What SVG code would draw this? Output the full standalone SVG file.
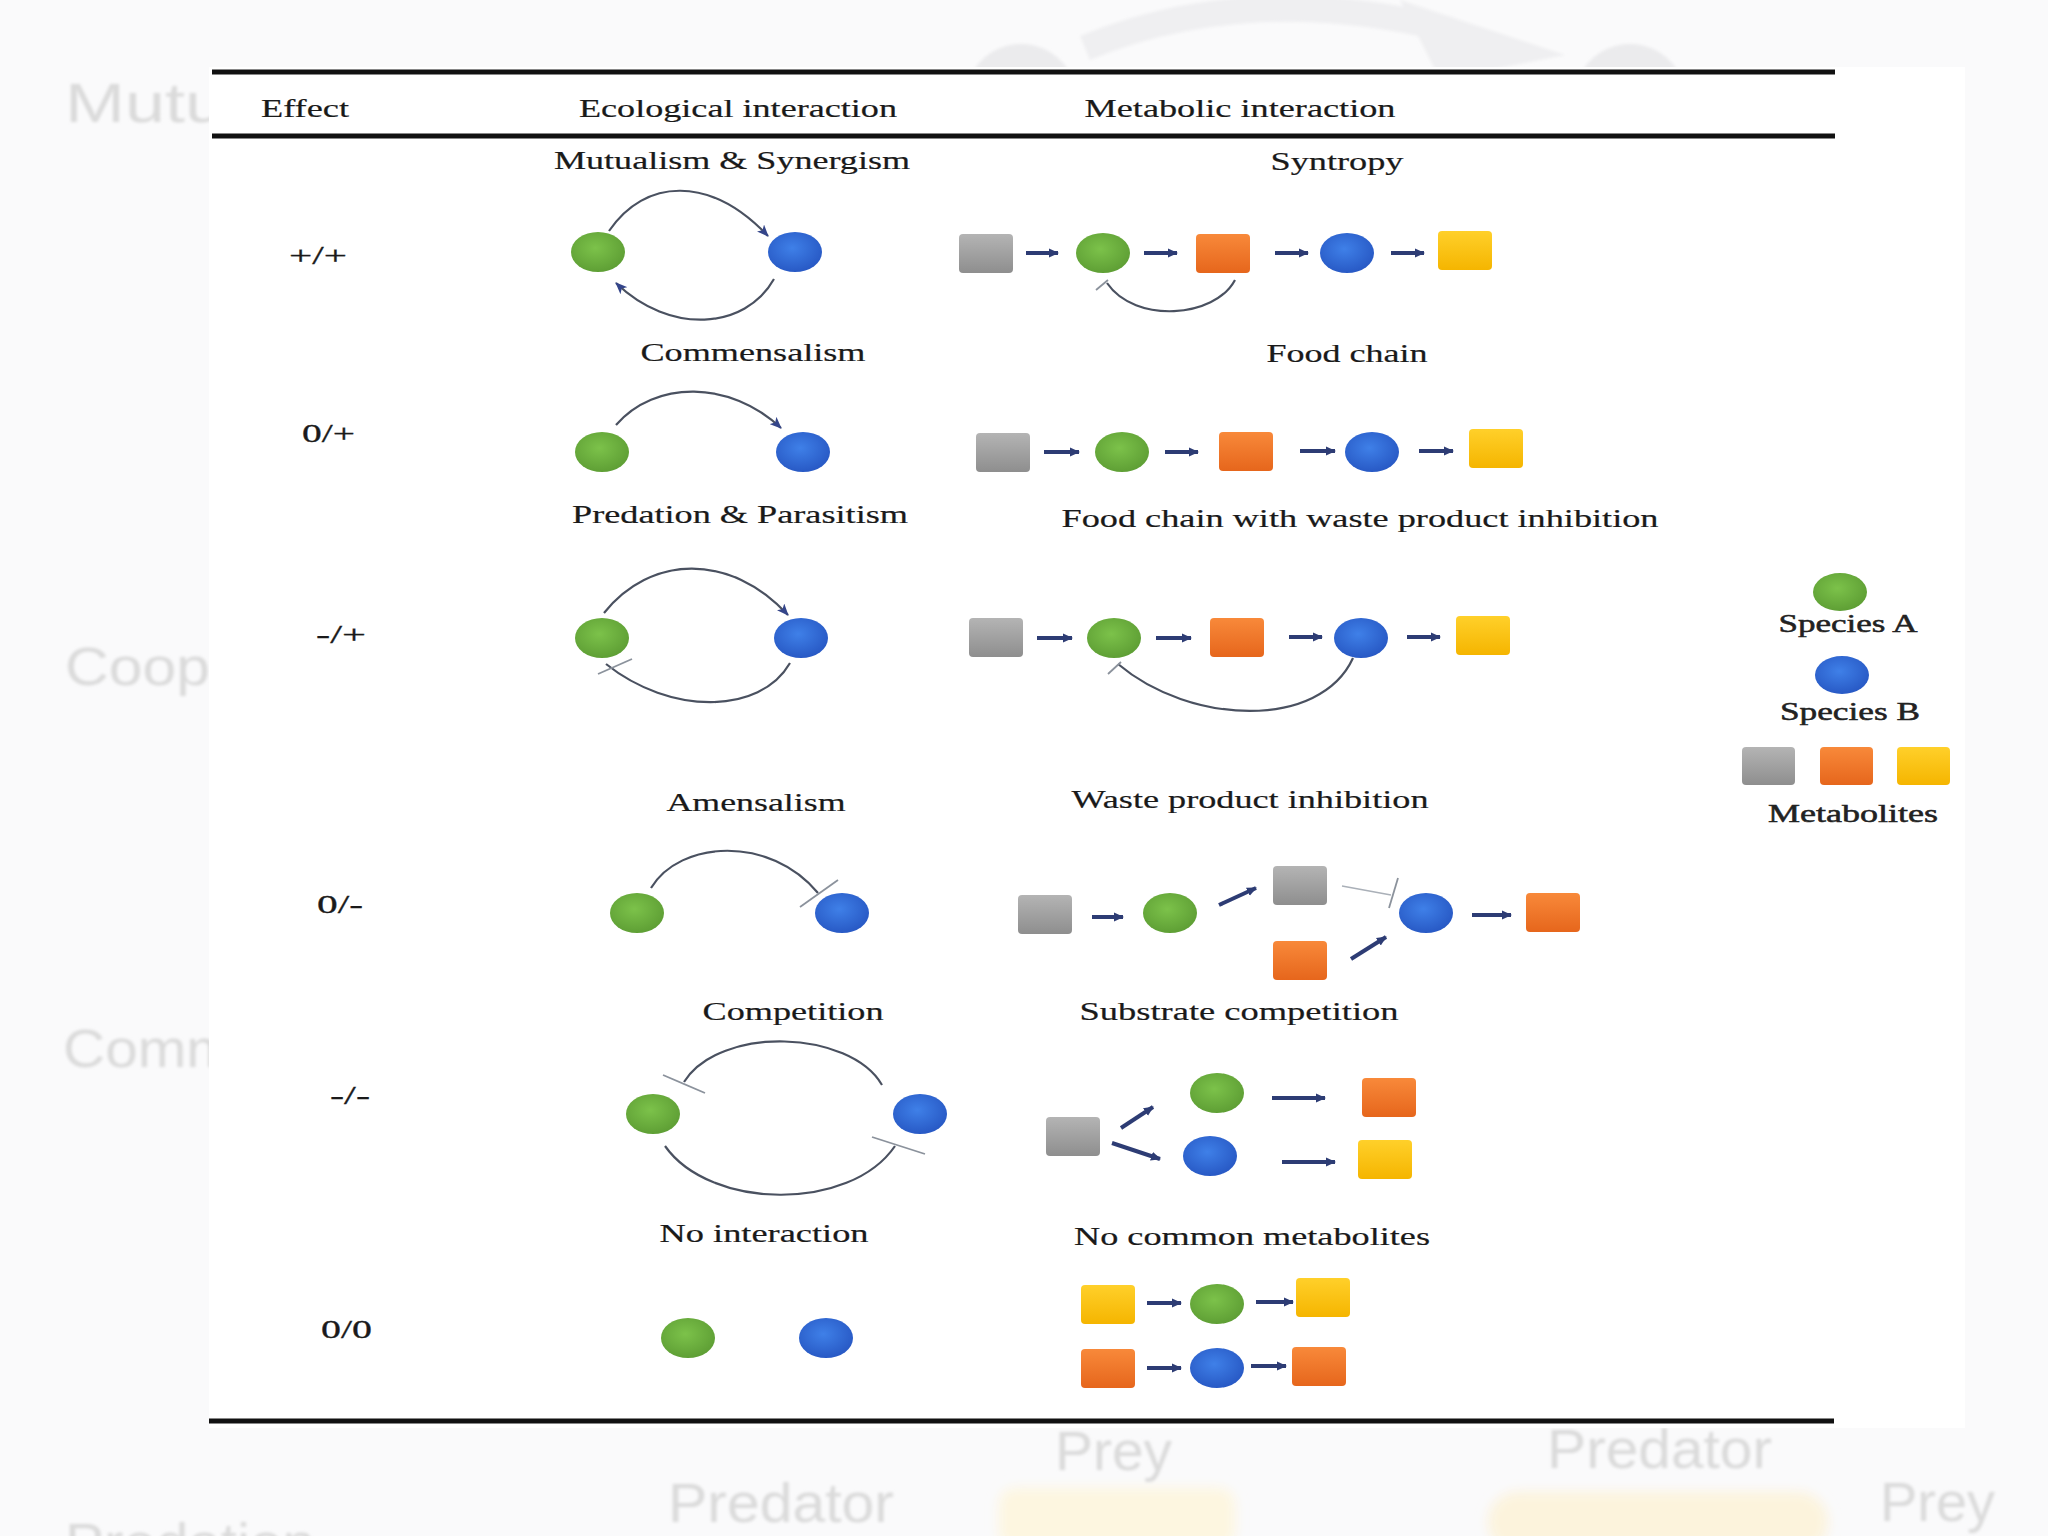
<svg xmlns="http://www.w3.org/2000/svg" width="2048" height="1536" viewBox="0 0 2048 1536">
<style>
.t{font-family:"Liberation Serif","Times New Roman",serif;font-size:25px;fill:#1a1a1a;stroke:#1a1a1a;stroke-width:0.2;text-anchor:middle}
.e{font-family:"Liberation Serif","Times New Roman",serif;font-size:26px;fill:#1a1a1a;stroke:#1a1a1a;stroke-width:0.3}
.lg{font-family:"Liberation Serif","Times New Roman",serif;font-size:25px;fill:#222;stroke:#222;stroke-width:0.5;text-anchor:middle}
.gh{font-family:"Liberation Sans",Arial,sans-serif;fill:#dadada}
.rule{stroke:#111;stroke-width:5}
.arc{fill:none;stroke:#4a5160;stroke-width:2.2}
.bar{fill:none;stroke:#8b929c;stroke-width:1.8}
.ma{stroke:#2d3c74;stroke-width:4}
.ga{fill:url(#gGreen)}
.bb{fill:url(#gBlue)}
.mg{fill:url(#gGray)}
.mo{fill:url(#gOrange)}
.my{fill:url(#gYellow)}
</style>
<defs>
<radialGradient id="gGreen" cx="45%" cy="40%" r="65%"><stop offset="0" stop-color="#7cc24a"/><stop offset="1" stop-color="#5c9c33"/></radialGradient>
<radialGradient id="gBlue" cx="45%" cy="40%" r="65%"><stop offset="0" stop-color="#3f80e8"/><stop offset="1" stop-color="#2656c2"/></radialGradient>
<linearGradient id="gGray" x1="0" y1="0" x2="0" y2="1"><stop offset="0" stop-color="#b4b4b4"/><stop offset="1" stop-color="#8e8e8e"/></linearGradient>
<linearGradient id="gOrange" x1="0" y1="0" x2="0" y2="1"><stop offset="0" stop-color="#f8893a"/><stop offset="1" stop-color="#e6661c"/></linearGradient>
<linearGradient id="gYellow" x1="0" y1="0" x2="0" y2="1"><stop offset="0" stop-color="#ffd02a"/><stop offset="1" stop-color="#f5b500"/></linearGradient>
<filter id="blur" x="-20%" y="-20%" width="140%" height="140%"><feGaussianBlur stdDeviation="1.5"/></filter>
<filter id="blur2" x="-20%" y="-20%" width="140%" height="140%"><feGaussianBlur stdDeviation="6"/></filter>
<marker id="ah" markerUnits="userSpaceOnUse" markerWidth="12" markerHeight="10" refX="11" refY="5" orient="auto"><path d="M0,0 L12,5 L0,10 L3,5 z" fill="#34458a"/></marker>
<marker id="mh" markerUnits="userSpaceOnUse" markerWidth="10" markerHeight="10" refX="9" refY="5" orient="auto"><path d="M0,0.5 L10,5 L0,9.5 z" fill="#2d3c74"/></marker>
</defs>

<g id="background">
<rect x="0" y="0" width="2048" height="1536" fill="#fafafb"/>
<g filter="url(#blur)">
<path d="M1085,48 Q1250,-20 1450,30" fill="none" stroke="#efeff1" stroke-width="26"/>
<path d="M1400,0 L1565,55 L1440,80 z" fill="#efeff1"/>
<circle cx="1021" cy="100" r="56" fill="#ebebed"/>
<circle cx="1630" cy="100" r="56" fill="#ebebed"/>
<rect x="999" y="1488" width="236" height="60" rx="16" fill="#fdf6e0" filter="url(#blur2)"/>
<rect x="1488" y="1492" width="340" height="60" rx="30" fill="#fcf3dc" filter="url(#blur2)"/>
<text class="gh" x="65" y="122" font-size="55" textLength="160" lengthAdjust="spacingAndGlyphs">Mutu</text>
<text class="gh" x="65" y="685" font-size="53" textLength="145" lengthAdjust="spacingAndGlyphs">Coop</text>
<text class="gh" x="63" y="1067" font-size="53" textLength="172" lengthAdjust="spacingAndGlyphs">Comm</text>
<text class="gh" x="65" y="1562" font-size="56" textLength="250" lengthAdjust="spacingAndGlyphs">Predation</text>
<text class="gh" x="1055" y="1470" font-size="56" textLength="117" lengthAdjust="spacingAndGlyphs">Prey</text>
<text class="gh" x="1547" y="1468" font-size="56" textLength="225" lengthAdjust="spacingAndGlyphs">Predator</text>
<text class="gh" x="668" y="1522" font-size="56" textLength="226" lengthAdjust="spacingAndGlyphs">Predator</text>
<text class="gh" x="1880" y="1521" font-size="56" textLength="115" lengthAdjust="spacingAndGlyphs">Prey</text>
</g>
<rect x="209" y="67" width="1756" height="1361" fill="#ffffff"/>
</g>

<g id="table">
<line class="rule" x1="212" y1="72" x2="1835" y2="72"/>
<line class="rule" x1="212" y1="136" x2="1835" y2="136"/>
<line class="rule" x1="209" y1="1421" x2="1834" y2="1421"/>
<text class="t" x="305" y="117" textLength="88" lengthAdjust="spacingAndGlyphs">Effect</text>
<text class="t" x="738" y="117" textLength="318" lengthAdjust="spacingAndGlyphs">Ecological interaction</text>
<text class="t" x="1240" y="117" textLength="311" lengthAdjust="spacingAndGlyphs">Metabolic interaction</text>
<text class="e" x="289" y="264" textLength="58" lengthAdjust="spacingAndGlyphs">+/+</text>
<text class="e" x="302" y="442" textLength="53" lengthAdjust="spacingAndGlyphs">0/+</text>
<text class="e" x="316" y="643" textLength="50" lengthAdjust="spacingAndGlyphs">-/+</text>
<text class="e" x="317" y="913" textLength="46" lengthAdjust="spacingAndGlyphs">0/-</text>
<text class="e" x="330" y="1104" textLength="40" lengthAdjust="spacingAndGlyphs">-/-</text>
<text class="e" x="321" y="1338" textLength="51" lengthAdjust="spacingAndGlyphs">0/0</text>
<text class="t" x="732" y="169" textLength="356" lengthAdjust="spacingAndGlyphs">Mutualism &amp; Synergism</text>
<text class="t" x="1337" y="170" textLength="133" lengthAdjust="spacingAndGlyphs">Syntropy</text>
<text class="t" x="753" y="361" textLength="225" lengthAdjust="spacingAndGlyphs">Commensalism</text>
<text class="t" x="1347" y="362" textLength="161" lengthAdjust="spacingAndGlyphs">Food chain</text>
<text class="t" x="740" y="523" textLength="336" lengthAdjust="spacingAndGlyphs">Predation &amp; Parasitism</text>
<text class="t" x="1360" y="527" textLength="597" lengthAdjust="spacingAndGlyphs">Food chain with waste product inhibition</text>
<text class="t" x="756" y="811" textLength="179" lengthAdjust="spacingAndGlyphs">Amensalism</text>
<text class="t" x="1250" y="808" textLength="357" lengthAdjust="spacingAndGlyphs">Waste product inhibition</text>
<text class="t" x="793" y="1020" textLength="181" lengthAdjust="spacingAndGlyphs">Competition</text>
<text class="t" x="1239" y="1020" textLength="319" lengthAdjust="spacingAndGlyphs">Substrate competition</text>
<text class="t" x="764" y="1242" textLength="209" lengthAdjust="spacingAndGlyphs">No interaction</text>
<text class="t" x="1252" y="1245" textLength="356" lengthAdjust="spacingAndGlyphs">No common metabolites</text>
</g>

<g id="connectors">
<path class="arc" d="M609,231 C645,178 710,175 768,236" marker-end="url(#ah)"/>
<path class="arc" d="M774,279 C745,330 670,335 616,283" marker-end="url(#ah)"/>
<path class="arc" d="M616,425 C655,380 730,380 781,428" marker-end="url(#ah)"/>
<path class="arc" d="M604,613 C650,555 730,552 788,615" marker-end="url(#ah)"/>
<path class="arc" d="M790,663 C760,715 670,715 606,664"/>
<line class="bar" x1="598" y1="674" x2="632" y2="659"/>
<path class="arc" d="M651,888 C680,840 770,835 818,893"/>
<line class="bar" x1="800" y1="907" x2="838" y2="880"/>
<path class="arc" d="M882,1085 C850,1030 720,1025 684,1082"/>
<line class="bar" x1="663" y1="1075" x2="705" y2="1093"/>
<path class="arc" d="M665,1146 C710,1210 850,1212 895,1146"/>
<line class="bar" x1="872" y1="1137" x2="925" y2="1154"/>
<path class="arc" d="M1235,280 C1215,318 1135,324 1107,283"/>
<line class="bar" x1="1096" y1="290" x2="1108" y2="280"/>
<path class="arc" d="M1353,658 C1320,730 1190,725 1118,664"/>
<line class="bar" x1="1108" y1="674" x2="1121" y2="662"/>
<line x1="1342" y1="886" x2="1391" y2="895" stroke="#aab0b8" stroke-width="1.6"/>
<line class="bar" x1="1389" y1="908" x2="1398" y2="878"/>
<g marker-end="url(#mh)">
<line class="ma" x1="1026" y1="253" x2="1058" y2="253"/>
<line class="ma" x1="1144" y1="253" x2="1177" y2="253"/>
<line class="ma" x1="1275" y1="253" x2="1308" y2="253"/>
<line class="ma" x1="1391" y1="253" x2="1424" y2="253"/>
<line class="ma" x1="1044" y1="452" x2="1079" y2="452"/>
<line class="ma" x1="1165" y1="452" x2="1198" y2="452"/>
<line class="ma" x1="1300" y1="451" x2="1335" y2="451"/>
<line class="ma" x1="1419" y1="451" x2="1453" y2="451"/>
<line class="ma" x1="1037" y1="638" x2="1072" y2="638"/>
<line class="ma" x1="1156" y1="638" x2="1191" y2="638"/>
<line class="ma" x1="1289" y1="637" x2="1322" y2="637"/>
<line class="ma" x1="1407" y1="637" x2="1440" y2="637"/>
<line class="ma" x1="1092" y1="917" x2="1123" y2="917"/>
<line class="ma" x1="1219" y1="905" x2="1256" y2="888"/>
<line class="ma" x1="1351" y1="959" x2="1386" y2="937"/>
<line class="ma" x1="1472" y1="915" x2="1511" y2="915"/>
<line class="ma" x1="1121" y1="1128" x2="1153" y2="1107"/>
<line class="ma" x1="1112" y1="1143" x2="1160" y2="1159"/>
<line class="ma" x1="1272" y1="1098" x2="1325" y2="1098"/>
<line class="ma" x1="1282" y1="1162" x2="1335" y2="1162"/>
<line class="ma" x1="1147" y1="1303" x2="1181" y2="1303"/>
<line class="ma" x1="1256" y1="1302" x2="1293" y2="1302"/>
<line class="ma" x1="1147" y1="1368" x2="1181" y2="1368"/>
<line class="ma" x1="1251" y1="1366" x2="1286" y2="1366"/>
</g>
</g>

<g id="nodes">
<g id="r1-eco-A"><ellipse class="ga" cx="598" cy="252" rx="27" ry="20"/></g>
<g id="r1-eco-B"><ellipse class="bb" cx="795" cy="252" rx="27" ry="20"/></g>
<g id="r2-eco-A"><ellipse class="ga" cx="602" cy="452" rx="27" ry="20"/></g>
<g id="r2-eco-B"><ellipse class="bb" cx="803" cy="452" rx="27" ry="20"/></g>
<g id="r3-eco-A"><ellipse class="ga" cx="602" cy="638" rx="27" ry="20"/></g>
<g id="r3-eco-B"><ellipse class="bb" cx="801" cy="638" rx="27" ry="20"/></g>
<g id="r4-eco-A"><ellipse class="ga" cx="637" cy="913" rx="27" ry="20"/></g>
<g id="r4-eco-B"><ellipse class="bb" cx="842" cy="913" rx="27" ry="20"/></g>
<g id="r5-eco-A"><ellipse class="ga" cx="653" cy="1114" rx="27" ry="20"/></g>
<g id="r5-eco-B"><ellipse class="bb" cx="920" cy="1114" rx="27" ry="20"/></g>
<g id="r6-eco-A"><ellipse class="ga" cx="688" cy="1338" rx="27" ry="20"/></g>
<g id="r6-eco-B"><ellipse class="bb" cx="826" cy="1338" rx="27" ry="20"/></g>

<g id="r1-met-gray"><rect class="mg" x="959" y="234" width="54" height="39" rx="4"/></g>
<g id="r1-met-A"><ellipse class="ga" cx="1103" cy="253" rx="27" ry="20"/></g>
<g id="r1-met-orange"><rect class="mo" x="1196" y="234" width="54" height="39" rx="4"/></g>
<g id="r1-met-B"><ellipse class="bb" cx="1347" cy="253" rx="27" ry="20"/></g>
<g id="r1-met-yellow"><rect class="my" x="1438" y="231" width="54" height="39" rx="4"/></g>

<g id="r2-met-gray"><rect class="mg" x="976" y="433" width="54" height="39" rx="4"/></g>
<g id="r2-met-A"><ellipse class="ga" cx="1122" cy="452" rx="27" ry="20"/></g>
<g id="r2-met-orange"><rect class="mo" x="1219" y="432" width="54" height="39" rx="4"/></g>
<g id="r2-met-B"><ellipse class="bb" cx="1372" cy="452" rx="27" ry="20"/></g>
<g id="r2-met-yellow"><rect class="my" x="1469" y="429" width="54" height="39" rx="4"/></g>

<g id="r3-met-gray"><rect class="mg" x="969" y="618" width="54" height="39" rx="4"/></g>
<g id="r3-met-A"><ellipse class="ga" cx="1114" cy="638" rx="27" ry="20"/></g>
<g id="r3-met-orange"><rect class="mo" x="1210" y="618" width="54" height="39" rx="4"/></g>
<g id="r3-met-B"><ellipse class="bb" cx="1361" cy="638" rx="27" ry="20"/></g>
<g id="r3-met-yellow"><rect class="my" x="1456" y="616" width="54" height="39" rx="4"/></g>

<g id="r4-met-gray"><rect class="mg" x="1018" y="895" width="54" height="39" rx="4"/></g>
<g id="r4-met-A"><ellipse class="ga" cx="1170" cy="913" rx="27" ry="20"/></g>
<g id="r4-met-gray2"><rect class="mg" x="1273" y="866" width="54" height="39" rx="4"/></g>
<g id="r4-met-orange2"><rect class="mo" x="1273" y="941" width="54" height="39" rx="4"/></g>
<g id="r4-met-B"><ellipse class="bb" cx="1426" cy="913" rx="27" ry="20"/></g>
<g id="r4-met-orange"><rect class="mo" x="1526" y="893" width="54" height="39" rx="4"/></g>

<g id="r5-met-gray"><rect class="mg" x="1046" y="1117" width="54" height="39" rx="4"/></g>
<g id="r5-met-A"><ellipse class="ga" cx="1217" cy="1093" rx="27" ry="20"/></g>
<g id="r5-met-B"><ellipse class="bb" cx="1210" cy="1156" rx="27" ry="20"/></g>
<g id="r5-met-orange"><rect class="mo" x="1362" y="1078" width="54" height="39" rx="4"/></g>
<g id="r5-met-yellow"><rect class="my" x="1358" y="1140" width="54" height="39" rx="4"/></g>

<g id="r6-met-yellow1"><rect class="my" x="1081" y="1285" width="54" height="39" rx="4"/></g>
<g id="r6-met-A"><ellipse class="ga" cx="1217" cy="1304" rx="27" ry="20"/></g>
<g id="r6-met-yellow2"><rect class="my" x="1296" y="1278" width="54" height="39" rx="4"/></g>
<g id="r6-met-orange1"><rect class="mo" x="1081" y="1349" width="54" height="39" rx="4"/></g>
<g id="r6-met-B"><ellipse class="bb" cx="1217" cy="1368" rx="27" ry="20"/></g>
<g id="r6-met-orange2"><rect class="mo" x="1292" y="1347" width="54" height="39" rx="4"/></g>
</g>

<g id="legend">
<g id="legend-A"><ellipse class="ga" cx="1840" cy="592" rx="27" ry="19"/><text class="lg" x="1848" y="632" textLength="139" lengthAdjust="spacingAndGlyphs">Species A</text></g>
<g id="legend-B"><ellipse class="bb" cx="1842" cy="675" rx="27" ry="19"/><text class="lg" x="1850" y="720" textLength="140" lengthAdjust="spacingAndGlyphs">Species B</text></g>
<g id="legend-metabolites">
<rect class="mg" x="1742" y="747" width="53" height="38" rx="4"/>
<rect class="mo" x="1820" y="747" width="53" height="38" rx="4"/>
<rect class="my" x="1897" y="747" width="53" height="38" rx="4"/>
<text class="lg" x="1853" y="822" textLength="170" lengthAdjust="spacingAndGlyphs">Metabolites</text>
</g>
</g>
</svg>
